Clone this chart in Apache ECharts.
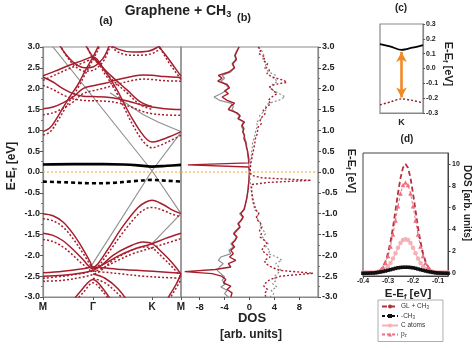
<!DOCTYPE html>
<html><head><meta charset="utf-8">
<script src="https://cdn.jsdelivr.net/npm/echarts@6/dist/echarts.min.js"></script>
<style>html,body{margin:0;padding:0;background:#fff}#c{width:474px;height:348px}</style>
</head><body><div id="c"></div>
<script>
// ---------- (a) band structure: k-path coordinate, energies in eV ----------
const kTicks = [0, 50, 109, 138];
const kLabels = ['M', 'Γ', 'K', 'M'];

const bandsGray = [
  [[5,3.15],[109,0.03]],
  [[109,0.03],[138,0.95]],
  [[109,0.03],[138,-1.0]],
  [[109,0.03],[47,-2.3]],
  [[109,-1.72],[138,-1.0]],
  [[67,1.9],[85,1.62],[100,1.38],[115,1.2],[128,1.07],[138,0.97]]
];
const bandsUpSolid = [
  [[0,0.97],[7,1.06],[14,1.3],[21,1.58],[28,1.85],[35,2.1],[42,2.42],[50,2.76],[55,3.0],[58,3.15]],
  [[0,1.52],[10,1.56],[20,1.66],[30,1.8],[40,2.0],[50,2.07],[62,2.13],[75,2.22],[90,2.3],[100,2.33],[109,2.32],[122,2.29],[138,2.27]],
  [[0,2.28],[10,2.16],[20,2.0],[30,1.88],[40,1.82],[50,1.81],[62,1.8],[75,1.76],[88,1.68],[100,1.6],[109,1.56],[122,1.52],[138,1.5]],
  [[0,2.31],[12,2.42],[25,2.55],[38,2.66],[50,2.76],[62,2.42],[74,1.97],[82,1.6],[90,1.25],[98,0.95],[104,0.78],[109,0.72],[117,0.76],[128,0.86],[138,0.97]],
  [[40,3.15],[45,2.95],[50,2.76],[58,2.55],[67,2.33],[84,1.97],[97,1.69],[109,1.57]],
  [[62,3.15],[75,2.95],[90,2.88],[105,2.9],[115,3.0],[122,3.15]],
  [[112,3.15],[118,2.95],[126,2.7],[132,2.5],[138,2.3]],
  [[14,3.15],[22,2.85],[32,2.6],[42,2.5],[50,2.52],[56,2.62],[62,2.8],[68,3.15]],
  [[0,-1.0],[10,-1.05],[20,-1.2],[30,-1.48],[40,-1.85],[47,-2.15],[50,-2.28],[55,-2.2],[65,-1.85],[80,-1.3],[95,-0.85],[103,-0.72],[109,-0.68],[120,-0.78],[130,-0.92],[138,-1.0]],
  [[0,-1.47],[10,-1.52],[20,-1.65],[30,-1.86],[40,-2.1],[50,-2.32],[60,-2.22],[75,-2.02],[90,-1.86],[109,-1.72],[122,-1.6],[138,-1.47]],
  [[0,-2.42],[20,-2.38],[40,-2.32],[50,-2.28],[60,-2.3],[80,-2.34],[100,-2.37],[120,-2.4],[138,-2.43]],
  [[0,-2.5],[20,-2.48],[40,-2.42],[50,-2.36],[58,-2.25],[70,-2.0],[85,-1.8],[100,-1.68],[109,-1.72],[120,-1.95],[130,-2.2],[138,-2.45]],
  [[28,-3.15],[38,-2.85],[50,-2.58],[60,-2.8],[70,-3.15]],
  [[50,-2.45],[62,-2.55],[75,-2.8],[86,-3.15]],
  [[122,-3.15],[128,-2.9],[133,-2.7],[138,-2.45]]
];
const bandsDnDotted = [
  [[0,0.89],[7,0.96],[14,1.2],[21,1.48],[28,1.76],[35,2.02],[42,2.34],[50,2.7],[55,2.93],[58,3.15]],
  [[0,1.37],[10,1.42],[20,1.53],[30,1.68],[40,1.88],[50,1.95],[62,2.02],[75,2.11],[90,2.2],[100,2.23],[109,2.22],[122,2.19],[138,2.18]],
  [[0,2.08],[10,1.98],[20,1.85],[30,1.76],[40,1.72],[50,1.71],[62,1.7],[75,1.66],[88,1.56],[100,1.45],[109,1.4],[122,1.37],[138,1.36]],
  [[0,2.2],[12,2.33],[25,2.47],[38,2.6],[50,2.7],[62,2.35],[74,1.88],[82,1.5],[90,1.12],[98,0.8],[104,0.64],[109,0.58],[117,0.64],[128,0.76],[138,0.88]],
  [[41,3.15],[46,2.9],[50,2.72],[60,2.5],[67,2.27],[84,1.9],[97,1.62],[109,1.5]],
  [[63,3.15],[75,2.88],[90,2.8],[105,2.82],[115,2.92],[123,3.15]],
  [[113,3.15],[119,2.9],[126,2.62],[132,2.42],[138,2.22]],
  [[15,3.15],[23,2.8],[33,2.52],[42,2.42],[50,2.44],[56,2.54],[62,2.72],[69,3.15]],
  [[0,-1.12],[10,-1.17],[20,-1.32],[30,-1.6],[40,-1.95],[47,-2.22],[50,-2.33],[55,-2.27],[65,-1.95],[80,-1.45],[95,-1.02],[103,-0.88],[109,-0.85],[120,-0.92],[130,-1.02],[138,-1.07]],
  [[0,-1.62],[10,-1.67],[20,-1.8],[30,-2.0],[40,-2.22],[50,-2.38],[60,-2.3],[75,-2.12],[90,-1.96],[109,-1.82],[122,-1.72],[138,-1.6]],
  [[0,-2.55],[20,-2.5],[40,-2.43],[50,-2.38],[60,-2.4],[80,-2.45],[100,-2.5],[120,-2.53],[138,-2.55]],
  [[0,-2.62],[20,-2.6],[40,-2.52],[50,-2.46],[58,-2.36],[70,-2.12],[85,-1.92],[100,-1.8],[109,-1.83],[120,-2.06],[130,-2.3],[138,-2.52]],
  [[30,-3.15],[40,-2.9],[50,-2.66],[60,-2.88],[69,-3.15]],
  [[50,-2.55],[62,-2.66],[74,-2.9],[84,-3.15]],
  [[124,-3.15],[129,-2.95],[134,-2.75],[138,-2.58]]
];
const ch3BandUp = [[0,0.18],[30,0.19],[60,0.19],[80,0.18],[95,0.16],[109,0.13],[124,0.15],[138,0.17]];
const ch3BandDn = [[0,-0.23],[25,-0.25],[50,-0.27],[70,-0.26],[90,-0.22],[109,-0.19],[124,-0.21],[138,-0.23]];

// ---------- (b) DOS: [E, DOS] ----------
const dosTicks = [-8, -4, 0, 4, 8];
const dosRedUp = [[3.0,-1.7],[2.9,-2.0],[2.8,-2.3],[2.7,-2.1],[2.6,-2.7],[2.5,-2.4],[2.4,-3.3],[2.32,-5.0],[2.25,-4.4],[2.18,-5.1],[2.1,-3.6],[2.02,-3.2],[1.95,-4.0],[1.88,-3.4],[1.8,-4.4],[1.72,-3.6],[1.65,-2.4],[1.58,-3.0],[1.5,-3.4],[1.42,-2.0],[1.35,-1.5],[1.28,-1.8],[1.2,-0.8],[1.12,-1.2],[1.04,-0.9],[0.96,-1.1],[0.88,-0.8],[0.8,-0.9],[0.7,-0.6],[0.6,-0.5],[0.5,-0.3],[0.4,-0.2],[0.3,-0.1],[0.22,-0.1],[0.17,-9.9],[0.12,-0.1],[0.05,-0.05],[0.0,-0.02],[-0.1,-0.05],[-0.2,-0.08],[-0.3,-0.15],[-0.4,-0.2],[-0.5,-0.3],[-0.6,-0.4],[-0.7,-0.55],[-0.8,-0.7],[-0.9,-0.9],[-1.0,-1.4],[-1.08,-1.0],[-1.16,-1.3],[-1.24,-1.8],[-1.32,-1.5],[-1.4,-2.0],[-1.48,-2.5],[-1.56,-2.0],[-1.64,-2.3],[-1.72,-2.8],[-1.8,-2.4],[-1.88,-3.0],[-1.96,-2.6],[-2.04,-3.2],[-2.12,-2.2],[-2.2,-3.4],[-2.28,-3.0],[-2.34,-5.5],[-2.39,-10.4],[-2.44,-6.0],[-2.5,-4.5],[-2.58,-3.8],[-2.66,-4.2],[-2.74,-3.0],[-2.82,-3.6],[-2.9,-2.8],[-3.0,-3.0]];
const dosGrayUp = [[3.0,-1.6],[2.9,-2.1],[2.8,-2.4],[2.7,-2.2],[2.6,-2.8],[2.5,-2.5],[2.4,-3.0],[2.32,-4.4],[2.25,-4.0],[2.18,-4.6],[2.1,-3.8],[2.02,-3.4],[1.95,-3.8],[1.88,-4.6],[1.8,-5.7],[1.72,-4.8],[1.65,-3.0],[1.58,-2.6],[1.5,-2.8],[1.42,-2.2],[1.35,-1.6],[1.28,-1.9],[1.2,-1.0],[1.1,-1.3],[1.0,-1.0],[0.9,-0.9],[0.8,-0.7],[0.7,-0.5],[0.6,-0.45],[0.5,-0.35],[0.4,-0.3],[0.3,-0.2],[0.2,-0.12],[0.1,-0.05],[0.0,0],[-0.1,-0.05],[-0.2,-0.1],[-0.3,-0.18],[-0.4,-0.25],[-0.5,-0.32],[-0.6,-0.4],[-0.7,-0.5],[-0.8,-0.7],[-0.9,-0.8],[-1.0,-1.6],[-1.08,-1.1],[-1.16,-1.4],[-1.24,-1.9],[-1.32,-1.6],[-1.4,-2.2],[-1.48,-2.6],[-1.56,-2.1],[-1.64,-2.4],[-1.72,-3.0],[-1.8,-2.6],[-1.88,-3.3],[-1.96,-3.0],[-2.04,-4.6],[-2.12,-5.0],[-2.2,-4.2],[-2.28,-4.8],[-2.36,-5.2],[-2.44,-4.6],[-2.52,-4.0],[-2.6,-4.4],[-2.68,-3.8],[-2.76,-4.6],[-2.84,-3.6],[-2.92,-4.0],[-3.0,-3.4]];
const dosRedDn = [[3.0,1.4],[2.92,1.8],[2.84,1.5],[2.76,2.5],[2.68,2.2],[2.6,2.9],[2.52,2.6],[2.44,3.2],[2.36,2.8],[2.28,3.6],[2.2,5.5],[2.15,6.0],[2.1,4.0],[2.04,3.2],[1.96,3.8],[1.88,4.4],[1.8,3.6],[1.72,3.0],[1.64,3.4],[1.56,2.8],[1.48,2.2],[1.4,2.5],[1.32,2.0],[1.24,1.7],[1.16,1.9],[1.08,1.4],[1.0,1.3],[0.9,1.2],[0.8,0.95],[0.7,0.85],[0.6,0.75],[0.5,0.6],[0.4,0.45],[0.3,0.35],[0.2,0.2],[0.1,0.15],[0.0,0.1],[-0.08,0.3],[-0.14,2.0],[-0.2,9.9],[-0.25,3.0],[-0.3,0.4],[-0.4,0.3],[-0.5,0.4],[-0.6,0.5],[-0.7,0.6],[-0.8,0.8],[-0.9,1.0],[-1.0,1.5],[-1.08,1.1],[-1.16,1.3],[-1.24,1.8],[-1.32,2.0],[-1.4,1.6],[-1.48,1.9],[-1.56,1.7],[-1.64,2.4],[-1.72,2.8],[-1.8,2.2],[-1.88,2.0],[-1.96,2.6],[-2.04,3.3],[-2.12,2.4],[-2.2,2.6],[-2.28,3.5],[-2.36,4.8],[-2.43,10.2],[-2.5,5.0],[-2.58,3.3],[-2.66,2.6],[-2.74,2.3],[-2.82,2.9],[-2.9,2.5],[-3.0,2.6]];
const dosGrayDn = [[3.0,1.5],[2.9,2.0],[2.8,2.3],[2.7,2.1],[2.6,2.7],[2.5,2.4],[2.4,3.1],[2.32,4.2],[2.25,3.8],[2.18,4.5],[2.1,3.7],[2.02,3.3],[1.95,3.9],[1.88,4.8],[1.8,5.7],[1.72,4.7],[1.65,3.1],[1.58,2.6],[1.5,2.7],[1.42,2.1],[1.35,1.6],[1.28,1.9],[1.2,1.1],[1.1,1.3],[1.0,1.0],[0.9,0.9],[0.8,0.7],[0.7,0.5],[0.6,0.45],[0.5,0.35],[0.4,0.3],[0.3,0.2],[0.2,0.12],[0.1,0.05],[0.0,0],[-0.1,0.05],[-0.2,0.1],[-0.3,0.18],[-0.4,0.25],[-0.5,0.32],[-0.6,0.4],[-0.7,0.5],[-0.8,0.7],[-0.9,0.8],[-1.0,1.6],[-1.08,1.1],[-1.16,1.4],[-1.24,1.9],[-1.32,1.6],[-1.4,2.2],[-1.48,2.6],[-1.56,2.1],[-1.64,2.4],[-1.72,3.0],[-1.8,2.6],[-1.88,3.3],[-1.96,3.0],[-2.04,4.4],[-2.12,5.2],[-2.2,4.2],[-2.28,4.7],[-2.36,5.0],[-2.44,4.5],[-2.52,3.9],[-2.6,4.3],[-2.68,3.7],[-2.76,4.4],[-2.84,3.5],[-2.92,3.9],[-3.0,3.3]];

// ---------- (c) zoom at K ----------
const cK = [-1, -0.5, 0, 0.5, 1];
const cUp = [0.165, 0.148, 0.125, 0.14, 0.158];
const cDn = [-0.245, -0.225, -0.205, -0.215, -0.232];
const cGap = [0.112, -0.195];
const cTicks = [-0.3, -0.2, -0.1, 0, 0.1, 0.2, 0.3];

// ---------- (d) PDOS of the CH3-induced state ----------
const dX = [-0.40,-0.39,-0.38,-0.37,-0.36,-0.35,-0.34,-0.33,-0.32,-0.31,-0.30,-0.29,-0.28,-0.27,-0.26,-0.25,-0.24,-0.23,-0.22,-0.21,-0.20,-0.19,-0.18,-0.17,-0.16,-0.15,-0.14,-0.13,-0.12,-0.11,-0.10,-0.09,-0.08,-0.07,-0.06];
const dGL = [0,0,0,0.01,0.03,0.07,0.15,0.31,0.6,1.09,1.83,2.87,4.21,5.75,7.32,8.71,9.66,10,9.66,8.71,7.32,5.75,4.21,2.87,1.83,1.09,0.6,0.31,0.15,0.07,0.03,0.01,0,0,0];
const dPz = [0.06,0.06,0.06,0.07,0.08,0.11,0.18,0.31,0.54,0.95,1.58,2.44,3.55,4.83,6.14,7.29,8.07,8.3,8.07,7.29,6.14,4.83,3.55,2.44,1.58,0.95,0.54,0.31,0.18,0.11,0.08,0.07,0.06,0.06,0.06];
const dC = [0.06,0.06,0.06,0.06,0.07,0.08,0.11,0.16,0.25,0.4,0.63,0.95,1.36,1.84,2.33,2.76,3.05,3.12,3.05,2.76,2.33,1.84,1.36,0.95,0.63,0.4,0.25,0.16,0.11,0.08,0.07,0.06,0.06,0.06,0.06];
const dCH3 = [0,0,0.01,0.02,0.03,0.05,0.08,0.12,0.16,0.21,0.27,0.33,0.39,0.45,0.5,0.53,0.55,0.55,0.55,0.53,0.5,0.45,0.39,0.33,0.27,0.21,0.16,0.12,0.08,0.05,0.03,0.02,0.01,0,0];
const dXTicks = [-0.4, -0.3, -0.2, -0.1];
const dYTicks = [0, 2, 4, 6, 8, 10];
const legendNames = ['GL + CH3', '-CH3', 'C atoms', 'pz'];

// ---------- build ----------
const FONT = '"Liberation Sans", Arial, sans-serif';
const RED = '#a61e2e', GRAY = '#8e8e8e', AX = '#8a8a8a', TXT = '#222';
const chart = echarts.init(document.getElementById('c'), null, {renderer: 'canvas'});
const fmt1 = v => (Math.abs(v) < 1e-9 ? 0 : v).toFixed(1);
const lblStyle = (size, extra) => Object.assign({color: TXT, fontFamily: FONT, fontWeight: 'bold', fontSize: size}, extra || {});

const series = [];
function line(data, xi, style, opts) {
  series.push(Object.assign({
    type: 'line', xAxisIndex: xi, yAxisIndex: xi, data: data, symbol: 'none',
    smooth: 0.35, silent: true, animation: false, lineStyle: style
  }, opts || {}));
}
bandsGray.forEach(b => line(b, 0, {color: GRAY, width: 1.1}, {smooth: false}));
bandsDnDotted.forEach(b => line(b, 0, {color: RED, width: 1.5, type: [2, 2]}));
bandsUpSolid.forEach(b => line(b, 0, {color: RED, width: 1.5}));
line(ch3BandUp, 0, {color: '#000', width: 2.6});
line(ch3BandDn, 0, {color: '#000', width: 2.6, type: [4, 3]});
line([[kTicks[0], 0], [kTicks[3], 0]], 0, {color: '#f0a030', width: 1.2, type: [2, 2]}, {smooth: false});

const flip = arr => arr.map(p => [p[1], p[0]]);
line(flip(dosGrayUp), 1, {color: GRAY, width: 1.2}, {smooth: false});
line(flip(dosRedUp), 1, {color: RED, width: 1.4}, {smooth: false});
line(flip(dosGrayDn), 1, {color: GRAY, width: 1.2, type: [2, 2]}, {smooth: false});
line(flip(dosRedDn), 1, {color: RED, width: 1.4, type: [2, 2]}, {smooth: false});
line([[-11, 0], [11, 0]], 1, {color: '#f0a030', width: 1.2, type: [2, 2]}, {smooth: false});

line(cK.map((k, i) => [k, cDn[i]]), 2, {color: '#8e1a24', width: 1.4, type: [2, 2]}, {smooth: 0.3});
line(cK.map((k, i) => [k, cUp[i]]), 2, {color: '#000', width: 1.8}, {
  smooth: 0.3,
  markLine: {silent: true, animation: false, symbol: ['arrow', 'arrow'], symbolSize: [8, 10],
    label: {show: false}, lineStyle: {color: '#f08a24', width: 2.6, type: 'solid'},
    data: [[{coord: [0, cGap[0]]}, {coord: [0, cGap[1]]}]]}
});

const pd = v => dX.map((x, i) => [x, v[i]]);
line(pd(dC), 3, {color: '#f6b0b8', width: 1.2}, {name: 'C atoms', smooth: false, symbol: 'circle', symbolSize: 4.5, showSymbol: true, itemStyle: {color: '#f6b0b8'}});
line(pd(dPz), 3, {color: '#ee6f7f', width: 1, type: [3, 2]}, {name: 'pz', smooth: false, symbol: 'triangle', symbolSize: 4.5, showSymbol: true, itemStyle: {color: '#ee6f7f'}});
line(pd(dCH3), 3, {color: '#111', width: 1, type: [3, 2]}, {name: '-CH3', smooth: false, symbol: 'rect', symbolSize: 3.5, showSymbol: true, itemStyle: {color: '#111'}});
line(pd(dGL), 3, {color: '#b3303e', width: 1.8, type: [5, 3]}, {name: 'GL + CH3', smooth: false, itemStyle: {color: '#b3303e'}});

const axLine = {show: true, onZero: false, lineStyle: {color: AX, width: 1.2}};
const axLineD = {show: true, onZero: false, lineStyle: {color: '#444', width: 1}};
const option = {
  animation: false,
  backgroundColor: '#fff',
  grid: [
    {left: 43, top: 47, width: 138, height: 250, show: true, borderColor: AX, borderWidth: 1.2},
    {left: 181, top: 47, width: 137, height: 250, show: true, borderColor: AX, borderWidth: 1.2},
    {left: 380, top: 24, width: 43, height: 89, show: true, borderColor: AX, borderWidth: 1.2},
    {left: 363, top: 153, width: 85, height: 123, show: true, borderColor: '#444', borderWidth: 1}
  ],
  xAxis: [
    {gridIndex: 0, type: 'value', min: 0, max: 138, axisLine: axLine, splitLine: {show: false},
      axisTick: {show: true, customValues: kTicks, length: 3, lineStyle: {color: '#555'}},
      axisLabel: {customValues: kTicks, margin: 5, formatter: v => kLabels[kTicks.indexOf(v)] || '', ...lblStyle(10)}},
    {gridIndex: 1, type: 'value', min: -11, max: 11, axisLine: axLine, splitLine: {show: false},
      axisTick: {show: true, customValues: dosTicks, length: 3, lineStyle: {color: '#555'}},
      axisLabel: {customValues: dosTicks, margin: 5, ...lblStyle(9.5)}},
    {gridIndex: 2, type: 'value', min: -1, max: 1, axisLine: axLine, splitLine: {show: false},
      axisTick: {show: false},
      axisLabel: {customValues: [0], margin: 5, formatter: () => 'K', ...lblStyle(9)}},
    {gridIndex: 3, type: 'value', min: -0.4, max: -0.06, axisLine: axLineD, splitLine: {show: false},
      axisTick: {show: true, customValues: dXTicks, length: 2.5, lineStyle: {color: '#444'}},
      axisLabel: {customValues: dXTicks, margin: 1.5, formatter: fmt1, ...lblStyle(7)}}
  ],
  yAxis: [
    {gridIndex: 0, type: 'value', min: -3, max: 3, interval: 0.5, axisLine: axLine, splitLine: {show: false},
      axisTick: {show: true, length: 3, lineStyle: {color: '#555'}},
      minorTick: {show: true, splitNumber: 2, length: 2, lineStyle: {color: '#777'}},
      axisLabel: {margin: 3, formatter: fmt1, ...lblStyle(9)}},
    {gridIndex: 1, type: 'value', position: 'right', min: -3, max: 3, interval: 0.5, axisLine: axLine, splitLine: {show: false},
      axisTick: {show: true, length: 3, lineStyle: {color: '#555'}},
      minorTick: {show: true, splitNumber: 2, length: 2, lineStyle: {color: '#777'}},
      axisLabel: {margin: 4, formatter: fmt1, ...lblStyle(9)}},
    {gridIndex: 2, type: 'value', position: 'right', min: -0.3, max: 0.3, axisLine: axLine, splitLine: {show: false},
      axisTick: {show: true, customValues: cTicks, length: 2, lineStyle: {color: '#555'}},
      axisLabel: {customValues: cTicks, margin: 3, formatter: fmt1, ...lblStyle(7)}},
    {gridIndex: 3, type: 'value', position: 'right', min: -0.25, max: 11, axisLine: axLineD, splitLine: {show: false},
      axisTick: {show: true, customValues: dYTicks, length: 2.5, lineStyle: {color: '#444'}},
      axisLabel: {customValues: dYTicks, margin: 4, ...lblStyle(7)}}
  ],
  legend: {
    data: legendNames, orient: 'vertical', left: 378, top: 300, itemGap: 2, itemWidth: 16, itemHeight: 5,
    padding: [3, 14, 3, 3], borderColor: '#999', borderWidth: 0.8, selectedMode: false,
    formatter: n => ({'GL + CH3': 'GL + CH{s|3}', '-CH3': '-CH{s|3}', 'C atoms': 'C atoms', 'pz': 'p{s|z}'})[n],
    textStyle: {fontFamily: FONT, fontSize: 6.5, color: '#333', padding: [0, 0, 0, -2],
      rich: {s: {fontSize: 4.5, verticalAlign: 'bottom', lineHeight: 8, fontFamily: FONT, color: '#333'}}}
  },
  graphic: [],
  series: series
};

const sub = size => ({s: {fontSize: size * 0.65, fontWeight: 'bold', fontFamily: FONT, fill: TXT, verticalAlign: 'bottom', lineHeight: size * 1.2},
  m: {fontSize: size, fontWeight: 'bold', fontFamily: FONT, fill: TXT, lineHeight: size * 1.2}});
function txt(x, y, text, size, rot) {
  option.graphic.push({type: 'text', x: x, y: y, rotation: rot || 0, silent: true,
    style: {text: text, font: 'bold ' + size + 'px ' + FONT, fill: TXT, align: 'center', verticalAlign: 'middle',
      textAlign: 'center', textVerticalAlign: 'middle', rich: sub(size)}});
}
txt(178, 11, '{m|Graphene + CH}{s|3}', 14);
txt(106, 21, '(a)', 11);
txt(244, 18, '(b)', 11);
txt(401, 8, '(c)', 10);
txt(407, 139, '(d)', 10);
txt(12, 166, '{m|E-E}{s|f}{m| [eV]}', 12, Math.PI / 2);
txt(351, 171, '{m|E-E}{s|f}{m| [eV]}', 11, -Math.PI / 2);
txt(448, 64, '{m|E-E}{s|f}{m| [eV]}', 11, -Math.PI / 2);
txt(467, 203, 'DOS [arb. units]', 10, -Math.PI / 2);
txt(408, 293.5, '{m|E-E}{s|f}{m| [eV]}', 11.5);
txt(252, 318, 'DOS', 13);
txt(251, 335, '[arb. units]', 12);

chart.setOption(option);
</script></body></html>
